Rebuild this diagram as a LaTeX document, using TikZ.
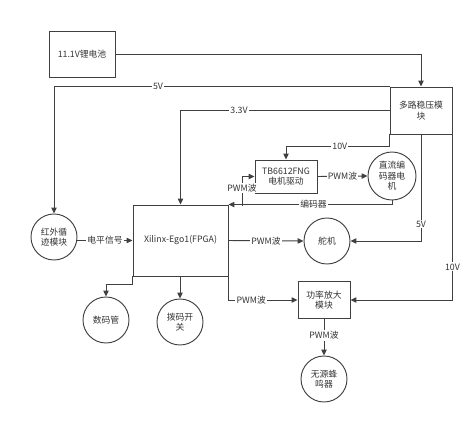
\documentclass[tikz,border=0pt]{standalone}
\usepackage{fontspec}
\setmainfont{Noto Sans CJK SC}
\usepackage{tikz}
\usetikzlibrary{calc,positioning,arrows.meta}
\usepackage{xcolor}
\definecolor{linegray}{rgb}{0.25, 0.25, 0.25}

\begin{document}
\begin{tikzpicture}[x=0.03cm,y=-0.03cm,
        font=\fontsize{7.5}{9}\selectfont,
        box/.style={draw=linegray, line width=0.8pt, align=center, inner sep=1pt, text=black!80},
        blob/.style={circle, draw=linegray, line width=0.8pt, align=center, inner sep=1pt, minimum size=1.38cm, text=black!80},
        arr/.style={draw=linegray, line width=0.8pt, -{Triangle[length=5pt,width=4.5pt]}},
        lbl/.style={fill=white, inner sep=1pt, text=black!80}]
        % page
        \useasboundingbox (0,0) rectangle (474,422);

        % blocks
        \node[box, minimum width=1.98cm, minimum height=1.38cm] (bat) at (82,54) {11.1V锂电池};
        \node[box, minimum width=1.86cm, minimum height=1.41cm] (reg) at (421,110.5) {多路稳压模\\块};
        \node[box, minimum width=1.86cm, minimum height=0.99cm] (tb) at (286,176.5) {TB6612FNG\\电机驱动};
        \node[box, minimum width=2.85cm, minimum height=2.13cm] (fpga) at (180.5,240.5) {Xilinx-Ego1(FPGA)};
        \node[box, minimum width=1.56cm, minimum height=1.11cm] (amp) at (324,300) {功率放大\\模块};

        % round parts
        \node[blob, minimum size=1.44cm] (dcm) at (392,176) {直流编\\码器电\\机};
        \node[blob] (ir) at (54,237) {红外循\\迹模块};
        \node[blob] (servo) at (327,241) {舵机};
        \node[blob] (seg) at (106,320) {数码管};
        \node[blob] (dip) at (180,322) {拨码开\\关};
        \node[blob] (buzz) at (324,379) {无源蜂\\鸣器};

        % power lines
        \draw[arr] (bat.east) -| (reg.north);
        \draw[arr] (reg.north west) -| (ir.north) node[lbl, pos=0.345] {5V};
        \draw[arr] (reg.west) -| (fpga.north) node[lbl, pos=0.36] {3.3V};
        \draw[arr] (reg.south west) -- ++(0,12) -| (tb.north) node[lbl, pos=0.24] {10V};
        \draw[arr] (reg.south) |- (servo.east) node[lbl, pos=0.42] {5V};
        \draw[arr] (reg.south east) |- (amp.east) node[lbl, pos=0.4] {10V};

        % motor loop
        \coordinate (tap) at (242,205.5);
        \draw[arr] (tap) |- (tb.west) node[lbl, pos=0.3] {PWM波};
        \draw[arr] (tb.east) -- (dcm.west) node[lbl, midway] {PWM波};
        \draw[arr] (dcm.south) |- (fpga.north east) node[lbl, pos=0.74] {编码器};

        % signals
        \draw[arr] (ir.east |- fpga.west) -- (fpga.west) node[lbl, midway] {电平信号};
        \draw[arr] (fpga.east) -- (servo.west) node[lbl, midway] {PWM波};
        \draw[arr] (fpga.south east) |- (amp.west) node[lbl, pos=0.665] {PWM波};
        \draw[arr] (amp.south) -- (buzz.north) node[lbl, pos=0.45] {PWM波};
        \draw[arr] (fpga.south west) -- ++(0,8) -| (seg.north);
        \draw[arr] (dip.north |- fpga.south) -- (dip.north);
    \end{tikzpicture}
\end{document}
